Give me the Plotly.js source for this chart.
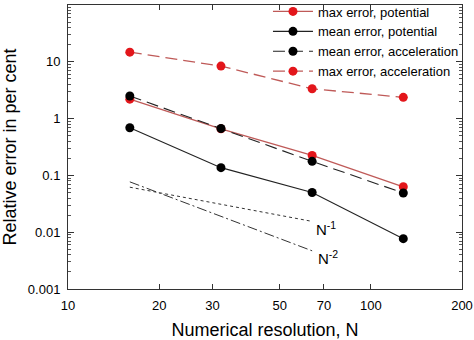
<!DOCTYPE html>
<html>
<head>
<meta charset="utf-8">
<script src="https://cdn.plot.ly/plotly-3.0.1.min.js"></script>
<style>html,body{margin:0;padding:0;background:#fff;}#chart{width:474px;height:340px;}</style>
</head>
<body>
<div id="chart"></div>
<script>
const resolution = [16, 32, 64, 128];
const maxErrPotential = [2.2, 0.66, 0.225, 0.063];
const meanErrPotential = [0.69, 0.137, 0.05, 0.0077];
const meanErrAcceleration = [2.5, 0.67, 0.177, 0.049];
const maxErrAcceleration = [14.8, 8.4, 3.35, 2.37];
const slopeN = [16, 64];
const slopeN1 = [0.062, 0.0155];
const slopeN2 = [0.077, 0.0047];
const xTickVals = [10, 20, 30, 50, 70, 100, 200];
const xTickText = ['10', '20', '30', '50', '70', '100', '200'];
const yTickVals = [0.001, 0.01, 0.1, 1, 10, 100];
const yTickText = ['0.001', '0.01', '0.1', '1', '10', '100'];

const redLine = '#bf5a58';
const redMarker = '#e3161b';
const font = 'Liberation Sans, Arial, sans-serif';

const traces = [
  {x: resolution, y: maxErrPotential, name: 'max error, potential', mode: 'lines+markers',
   line: {color: redLine, width: 1.3}, marker: {color: redMarker, size: 9}},
  {x: resolution, y: meanErrPotential, name: 'mean error, potential', mode: 'lines+markers',
   line: {color: '#222', width: 1.1}, marker: {color: '#000', size: 9}},
  {x: resolution, y: meanErrAcceleration, name: 'mean error, acceleration', mode: 'lines+markers',
   line: {color: '#222', width: 1.1, dash: '12px,6px'}, marker: {color: '#000', size: 9}},
  {x: resolution, y: maxErrAcceleration, name: 'max error, acceleration', mode: 'lines+markers',
   line: {color: redLine, width: 1.3, dash: '12px,6px'}, marker: {color: redMarker, size: 9}},
  {x: slopeN, y: slopeN1, mode: 'lines', showlegend: false,
   line: {color: '#333', width: 1, dash: 'dot'}},
  {x: slopeN, y: slopeN2, mode: 'lines', showlegend: false,
   line: {color: '#333', width: 1, dash: '10px,3px,2px,3px'}}
];

const layout = {
  width: 474, height: 340,
  margin: {l: 68, r: 12, t: 5, b: 51, autoexpand: false},
  paper_bgcolor: '#fff', plot_bgcolor: '#fff',
  font: {family: font, size: 13, color: '#000'},
  showlegend: true,
  legend: {x: 1.005, xanchor: 'right', y: 1.03, yanchor: 'top', bgcolor: 'rgba(0,0,0,0)',
           font: {family: font, size: 13}, tracegroupgap: 0, itemwidth: 40},
  xaxis: {
    type: 'log', range: [1, Math.log10(200)],
    tickvals: xTickVals, ticktext: xTickText,
    ticks: 'inside', ticklen: 5, tickcolor: '#333', tickwidth: 1,
    showgrid: false, zeroline: false,
    showline: true, linecolor: '#333', linewidth: 1, mirror: 'allticks',
    tickfont: {family: font, size: 13},
    ticklabelstandoff: 4,
    title: {text: 'Numerical resolution, N', font: {family: font, size: 18}, standoff: 12}
  },
  yaxis: {
    type: 'log', range: [-3, 2],
    tickvals: yTickVals, ticktext: yTickText,
    ticks: 'inside', ticklen: 6, tickcolor: '#333', tickwidth: 1,
    minor: {ticks: 'inside', ticklen: 3, dtick: 'D1', tickcolor: '#555', showgrid: false},
    showgrid: false, zeroline: false,
    showline: true, linecolor: '#333', linewidth: 1, mirror: 'allticks',
    tickfont: {family: font, size: 13},
    ticklabelstandoff: 4,
    title: {text: 'Relative error in per cent', font: {family: font, size: 18}, standoff: 6}
  },
  annotations: [
    {x: Math.log10(65), y: Math.log10(0.0115), xref: 'x', yref: 'y', text: 'N<sup>-1</sup>',
     showarrow: false, xanchor: 'left', yanchor: 'middle', font: {family: font, size: 15}},
    {x: Math.log10(66), y: Math.log10(0.0036), xref: 'x', yref: 'y', text: 'N<sup>-2</sup>',
     showarrow: false, xanchor: 'left', yanchor: 'middle', font: {family: font, size: 15}}
  ]
};

Plotly.newPlot('chart', traces, layout, {displayModeBar: false, staticPlot: true});
</script>
</body>
</html>
